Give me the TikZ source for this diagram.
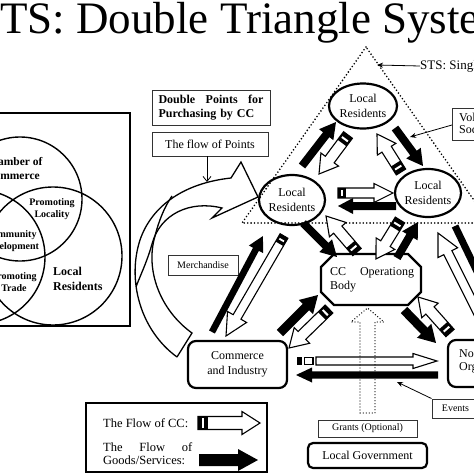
\documentclass[tikz,border=0pt]{standalone}
\usepackage{fontspec}
\setmainfont{Liberation Serif}
\usetikzlibrary{shapes.geometric,arrows.meta,calc}

\newcommand{\myfs}[2]{\fontsize{#1}{#2}\selectfont}
\newcommand{\arrgeom}[2]{%
  \path (#1); \pgfgetlastxy{\ccxa}{\ccya}%
  \path (#2); \pgfgetlastxy{\ccxb}{\ccyb}%
  \pgfmathsetmacro{\ccang}{atan2(\ccyb-\ccya,\ccxb-\ccxa)}%
  \pgfmathsetmacro{\ccL}{veclen(\ccxb-\ccxa,\ccyb-\ccya)}%
}
% solid black arrow: from, to, shaft half width, head half width, head length
\newcommand{\blkarrow}[5]{%
  \arrgeom{#1}{#2}%
  \pgfmathsetmacro{\ccH}{\ccL-#5}%
  \fill[shift={(#1)}, rotate=\ccang] (0,-#3) -- (\ccH,-#3) -- (\ccH,-#4) -- (\ccL,0) -- (\ccH,#4) -- (\ccH,#3) -- (0,#3) -- cycle;%
}
% hollow CC arrow: from, to, shaft half width, head half width, head length, black tail length
\newcommand{\ccarrow}[6]{%
  \arrgeom{#1}{#2}%
  \pgfmathsetmacro{\ccH}{\ccL-#5}%
  \begin{scope}[shift={(#1)}, rotate=\ccang]
    \filldraw[fill=white, line width=1.1pt] (0,-#3) -- (\ccH,-#3) -- (\ccH,-#4) -- (\ccL,0) -- (\ccH,#4) -- (\ccH,#3) -- (0,#3) -- cycle;
    \fill (0,-#3) rectangle (#6,#3);
    \fill[white] ({0.42*#6},{-#3+1.8}) rectangle ({0.62*#6},{#3-1.8});
  \end{scope}%
}

\tikzset{
  thinbox/.style={draw=black!80, line width=0.9pt, inner sep=0pt},
  thickbox/.style={draw, line width=2.2pt, inner sep=0pt},
  venn/.style={line width=1.4pt},
  lr/.style={ellipse, draw, line width=2.2pt, inner sep=0pt, align=center, font=\myfs{12}{15}},
  pointer/.style={line width=0.8pt, -{Stealth[length=6pt,width=5pt]}},
  vlabel/.style={font=\bfseries\myfs{10}{12}, align=center, inner sep=0pt},
}

\begin{document}
\begin{tikzpicture}[x=1pt,y=-1pt]
\useasboundingbox (0,0) rectangle (474,474);
\clip (0,0) rectangle (474,474);
\fill[white] (0,0) rectangle (474,474);

% ---------- title ----------
\node[anchor=base west, inner sep=0pt, font=\myfs{45}{45}] (title) at (-32.5,33) {DTS: Double Triangle System};

% ---------- Venn panel ----------
\draw[line width=2.2pt] (-5,113) rectangle (130,326);
\draw[venn] (20,199) circle[radius=62pt];
\draw[venn] (53,256) circle[radius=69pt];
\draw[venn] (-22,257) circle[radius=67pt];
\node[font=\bfseries\myfs{11.5}{14}, align=center, inner sep=0pt] (vcc) at (13,169) {Chamber of\\Commerce};
\node[vlabel] (vpl) at (52,209) {Promoting\\Locality};
\node[vlabel] (vcd) at (11,241) {Community\\Development};
\node[vlabel] (vpt) at (14,282.5) {Promoting\\Trade};
\node[font=\bfseries\myfs{12}{15}, align=left, inner sep=0pt, anchor=west] (vlr) at (53,279) {Local\\Residents};

% ---------- text boxes ----------
\node[thinbox, text width=105pt, inner xsep=6.5pt, minimum height=35pt, align=left, font=\bfseries\myfs{12}{14}] (dp) at (211,107.5) {Double\hfill Points\hfill for\\Purchasing by CC};
\node[thinbox, minimum width=116pt, minimum height=24pt, font=\myfs{12}{14}] (fp) at (210,144) {The flow of Points};
\node[thinbox, minimum width=70pt, minimum height=20pt, font=\myfs{10}{12}] (mer) at (203,265) {Merchandise};
\node[thinbox, minimum width=99pt, minimum height=17pt, font=\myfs{10}{12}] (gr) at (367.5,428.5) {Grants (Optional)};
\node[thinbox, minimum width=47pt, minimum height=19pt, font=\myfs{10}{12}] (ev) at (455.5,408.5) {Events};
\draw[draw=black!80, line width=0.9pt] (452,108) rectangle (530,140);
\node[anchor=west, align=left, inner sep=0pt, font=\myfs{12}{12}] (vo) at (459,125) {Volunteer\\Society};
\node[thickbox, rounded corners=5pt, minimum width=119pt, minimum height=25pt, font=\myfs{12}{14}] (lg) at (367.5,455.5) {Local Government};

% ---------- legend ----------
\node[thickbox, minimum width=181pt, minimum height=69pt] (legend) at (176.5,437.5) {};
\node[anchor=west, inner sep=0pt, font=\myfs{12.5}{13.5}] (lgt1) at (103,423) {The Flow of CC:};
\node[anchor=west, inner sep=0pt, text width=89pt, align=left, font=\myfs{12.5}{13.5}] (lgt2) at (103,453.5) {The\hfill Flow\hfill of\\Goods/Services:};
\coordinate (lgHa) at (198,423); \coordinate (lgHb) at (260,423);
\coordinate (lgBa) at (199,460); \coordinate (lgBb) at (258,460);
\ccarrow{lgHa}{lgHb}{6.5}{11.5}{18}{10}
\blkarrow{lgBa}{lgBb}{6}{11}{20}

% ---------- dotted single triangle ----------
\draw[line width=1.8pt, dash pattern=on 0pt off 3.4pt, line cap=round] (366,47) -- (242,223) -- (490,223) -- cycle;
\node[anchor=west, inner sep=0pt, font=\myfs{13}{15}] (sts) at (420,66) {STS: Single Triangle System};
\coordinate (stsTip) at (377,65);
\draw[pointer] (sts.west) -- (stsTip);
\coordinate (voTip) at (410,137);
\draw[pointer] (452,125) coordinate (voStart) -- (voTip);

% ---------- main nodes ----------
\node[lr, minimum width=68pt, minimum height=45pt] (lrt) at (363,106) {Local\\Residents};
\node[lr, minimum width=56pt, minimum height=50pt] (lrl) at (292,200) {Local\\Residents};
\node[lr, minimum width=62pt, minimum height=48pt] (lrr) at (428,193) {Local\\Residents};
\draw[line width=2.2pt, line join=miter] (334,254) -- (408,254) -- (421,267) -- (421,292) -- (408,305) -- (334,305) -- (321,292) -- (321,267) -- cycle;
\node[text width=84pt, align=left, inner sep=0pt, font=\myfs{12}{14}] (cc) at (372,280) {CC\hfill Operationg\\Body};
\node[thickbox, rounded corners=8pt, minimum width=99pt, minimum height=47pt, align=center, font=\myfs{12}{15}] (com) at (237.5,364.5) {Commerce\\and Industry};
\draw[line width=2.2pt, rounded corners=8pt] (540,340) -- (448,340) -- (448,387) -- (540,387);
\node[anchor=west, align=left, inner sep=0pt, font=\myfs{12}{13}] (npo) at (459,361.5) {Non-Profit\\Organizations};

% ---------- curved arrow: flow of points ----------
\draw[line width=1.3pt, line join=miter] (177,357) .. controls (140,330) and (127,280) .. (140,240) .. controls (152,205) and (185,183) .. (231,178) -- (241,162) -- (258,197) -- (212,218) -- (222,208) .. controls (190,200) and (160,214) .. (152,244) .. controls (147,262) and (140,276) .. (136,287);
\draw[line width=1.3pt] (177,357) -- (192,333) .. controls (160,310) and (145,270) .. (155,236) .. controls (159,220) and (165,206) .. (172,196);
\coordinate (fpTip) at (207,182);
\draw[line width=0.8pt, -{Straight Barb[length=5pt,width=8pt]}] (fp.south -| fpTip) -- (fpTip);

% ---------- coordinates of flows ----------
\coordinate (b1a) at (302,166); \coordinate (b1b) at (336,122);
\coordinate (b2a) at (395,128); \coordinate (b2b) at (423,166);
\coordinate (b3a) at (396,206); \coordinate (b3b) at (338,206);
\coordinate (b4a) at (303,223); \coordinate (b4b) at (337,257);
\coordinate (b5a) at (397,258); \coordinate (b5b) at (418,222);
\coordinate (b6a) at (280,333); \coordinate (b6b) at (318,295);
\coordinate (b7a) at (404,310); \coordinate (b7b) at (436,343);
\coordinate (b8a) at (438,375); \coordinate (b8b) at (296,375);
\coordinate (b9a) at (212,332); \coordinate (b9b) at (263,236);
\coordinate (b10a) at (455,226); \coordinate (b10b) at (510,340);
\coordinate (h1a) at (348,135); \coordinate (h1b) at (319,174);
\coordinate (h2a) at (401,172); \coordinate (h2b) at (377,134);
\coordinate (h3a) at (338,193); \coordinate (h3b) at (393,193);
\coordinate (h4a) at (357,252); \coordinate (h4b) at (326,216);
\coordinate (h5a) at (400,220); \coordinate (h5b) at (376,259);
\coordinate (h6a) at (329,309); \coordinate (h6b) at (289,348);
\coordinate (h7a) at (450,333); \coordinate (h7b) at (418,297);
\coordinate (h8a) at (316,361); \coordinate (h8b) at (437,361);
\coordinate (h9a) at (284,236); \coordinate (h9b) at (226,336);
\coordinate (h10a) at (490,337); \coordinate (h10b) at (438,233);

% ---------- goods / services (black) ----------
\blkarrow{b1a}{b1b}{4}{9}{16}
\blkarrow{b2a}{b2b}{4}{9}{16}
\blkarrow{b3a}{b3b}{4}{8}{15}
\blkarrow{b4a}{b4b}{4}{9}{16}
\blkarrow{b5a}{b5b}{4}{9}{16}
\blkarrow{b6a}{b6b}{4.5}{10}{17}
\blkarrow{b7a}{b7b}{4.5}{10}{17}
\blkarrow{b9a}{b9b}{3.3}{8}{15}
\blkarrow{b10a}{b10b}{3.5}{9}{16}

% ---------- CC flows (hollow) ----------
\ccarrow{h1a}{h1b}{5.5}{11}{18}{10}
\ccarrow{h2a}{h2b}{5.5}{11}{18}{10}
\ccarrow{h3a}{h3b}{5}{9.5}{19}{8}
\ccarrow{h4a}{h4b}{5.5}{11}{18}{10}
\ccarrow{h5a}{h5b}{5.5}{11}{18}{10}
\ccarrow{h6a}{h6b}{5.5}{11}{18}{10}
\ccarrow{h7a}{h7b}{5.5}{11}{18}{10}
\ccarrow{h9a}{h9b}{4.5}{11}{22}{9}
\ccarrow{h10a}{h10b}{4.5}{11}{22}{9}
\ccarrow{h8a}{h8b}{4}{7.5}{24}{0}
\fill (297,357) rectangle (302,365);
\draw[line width=1.2pt] (304.5,357.6) rectangle (313,364.4);

% ---------- grants dotted arrow ----------
\draw[line width=1.4pt, dash pattern=on 0pt off 3pt, line cap=round] (360,413) -- (360,322) -- (351,322) -- (367.5,308) -- (384,322) -- (375,322) -- (375,413) -- cycle;
\blkarrow{b8a}{b8b}{3.6}{7.5}{16}

% ---------- pointer from Events ----------
\coordinate (evTip) at (397,382);
\draw[pointer] (ev.north west) -- (evTip);
\end{tikzpicture}
\end{document}
